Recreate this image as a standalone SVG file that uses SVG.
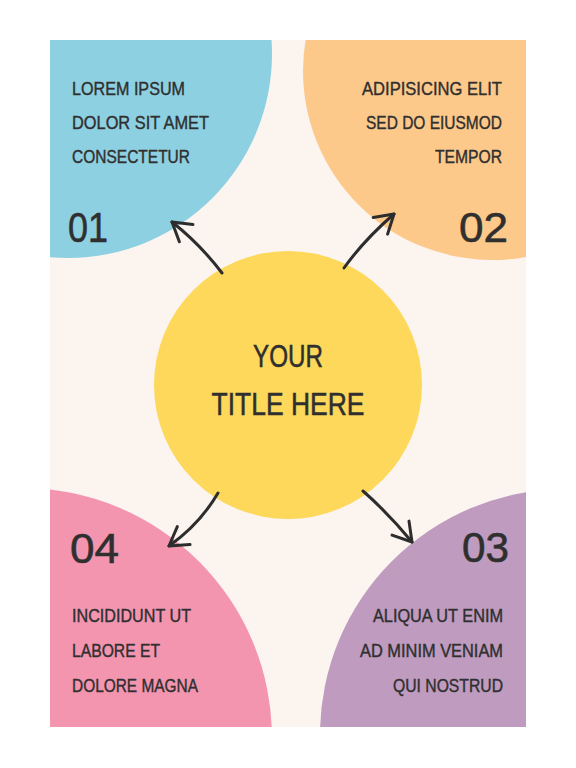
<svg xmlns="http://www.w3.org/2000/svg" width="576" height="768" viewBox="0 0 576 768">
  <style>
    .body { font-family: "Liberation Sans", "DejaVu Sans", sans-serif; font-size: 19px; fill: #2f2f2f; stroke: #2f2f2f; stroke-width: 0.4px; }
    .num { font-family: "Liberation Sans", "DejaVu Sans", sans-serif; font-size: 42px; fill: #2f2f2f; stroke: #2f2f2f; stroke-width: 0.6px; }
    .title { font-family: "Liberation Sans", "DejaVu Sans", sans-serif; font-size: 31px; fill: #2f2f2f; stroke: #2f2f2f; stroke-width: 0.5px; text-anchor: middle; }
    .r { text-anchor: end; }
    .conn { fill: none; stroke: #2d2d2d; stroke-width: 3; stroke-linecap: round; stroke-linejoin: round; }
  </style>
  <defs>
    <clipPath id="panel">
      <rect x="50" y="40" width="476" height="687"/>
    </clipPath>
    <marker id="head" markerUnits="userSpaceOnUse" markerWidth="30" markerHeight="30" refX="0" refY="0" viewBox="-22 -15 26 30" orient="auto" overflow="visible">
      <path d="M-18,-11 L0,0 L-18,11" fill="none" stroke="#2d2d2d" stroke-width="3" stroke-linecap="round" stroke-linejoin="round"/>
    </marker>
  </defs>

  <rect x="0" y="0" width="576" height="768" fill="#ffffff"/>
  <rect id="background" x="50" y="40" width="476" height="687" fill="#fbf4ef"/>

  <g id="node-01">
    <circle cx="68" cy="54" r="204" fill="#8dd0e1" clip-path="url(#panel)"/>
    <text class="body" x="72" y="95" textLength="113" lengthAdjust="spacingAndGlyphs">LOREM IPSUM</text>
    <text class="body" x="72" y="129" textLength="137" lengthAdjust="spacingAndGlyphs">DOLOR SIT AMET</text>
    <text class="body" x="72" y="163" textLength="118" lengthAdjust="spacingAndGlyphs">CONSECTETUR</text>
    <text class="num" x="68" y="242" textLength="40" lengthAdjust="spacingAndGlyphs">01</text>
  </g>

  <g id="node-02">
    <circle cx="492" cy="71" r="189" fill="#fdc98b" clip-path="url(#panel)"/>
    <text class="body r" x="502" y="95" textLength="140" lengthAdjust="spacingAndGlyphs">ADIPISICING ELIT</text>
    <text class="body r" x="502" y="129" textLength="136" lengthAdjust="spacingAndGlyphs">SED DO EIUSMOD</text>
    <text class="body r" x="502" y="163" textLength="67" lengthAdjust="spacingAndGlyphs">TEMPOR</text>
    <text class="num r" x="508" y="242" textLength="49" lengthAdjust="spacingAndGlyphs">02</text>
  </g>

  <g id="node-03">
    <circle cx="566" cy="735" r="246" fill="#be9bbf" clip-path="url(#panel)"/>
    <text class="num r" x="509" y="562" textLength="47" lengthAdjust="spacingAndGlyphs">03</text>
    <text class="body r" x="503" y="622" textLength="130" lengthAdjust="spacingAndGlyphs">ALIQUA UT ENIM</text>
    <text class="body r" x="503" y="657" textLength="143" lengthAdjust="spacingAndGlyphs">AD MINIM VENIAM</text>
    <text class="body r" x="503" y="692" textLength="110" lengthAdjust="spacingAndGlyphs">QUI NOSTRUD</text>
  </g>

  <g id="node-04">
    <circle cx="22" cy="738" r="250" fill="#f495b0" clip-path="url(#panel)"/>
    <text class="num" x="70" y="563" textLength="49" lengthAdjust="spacingAndGlyphs">04</text>
    <text class="body" x="72" y="622" textLength="119" lengthAdjust="spacingAndGlyphs">INCIDIDUNT UT</text>
    <text class="body" x="72" y="657" textLength="88" lengthAdjust="spacingAndGlyphs">LABORE ET</text>
    <text class="body" x="72" y="692" textLength="126" lengthAdjust="spacingAndGlyphs">DOLORE MAGNA</text>
  </g>

  <g id="node-title">
    <circle cx="288" cy="385" r="134" fill="#fdd85a"/>
    <text class="title" x="288" y="367" textLength="70" lengthAdjust="spacingAndGlyphs">YOUR</text>
    <text class="title" x="288" y="415" textLength="153" lengthAdjust="spacingAndGlyphs">TITLE HERE</text>
  </g>

  <g id="connectors">
    <path class="conn" d="M222,273 Q200,244 172,222" marker-end="url(#head)"/>
    <path class="conn" d="M344,268 Q364,240 394,214" marker-end="url(#head)"/>
    <path class="conn" d="M363,491 Q388,513 412,542" marker-end="url(#head)"/>
    <path class="conn" d="M218,493 Q200,524 169,546" marker-end="url(#head)"/>
  </g>
</svg>
